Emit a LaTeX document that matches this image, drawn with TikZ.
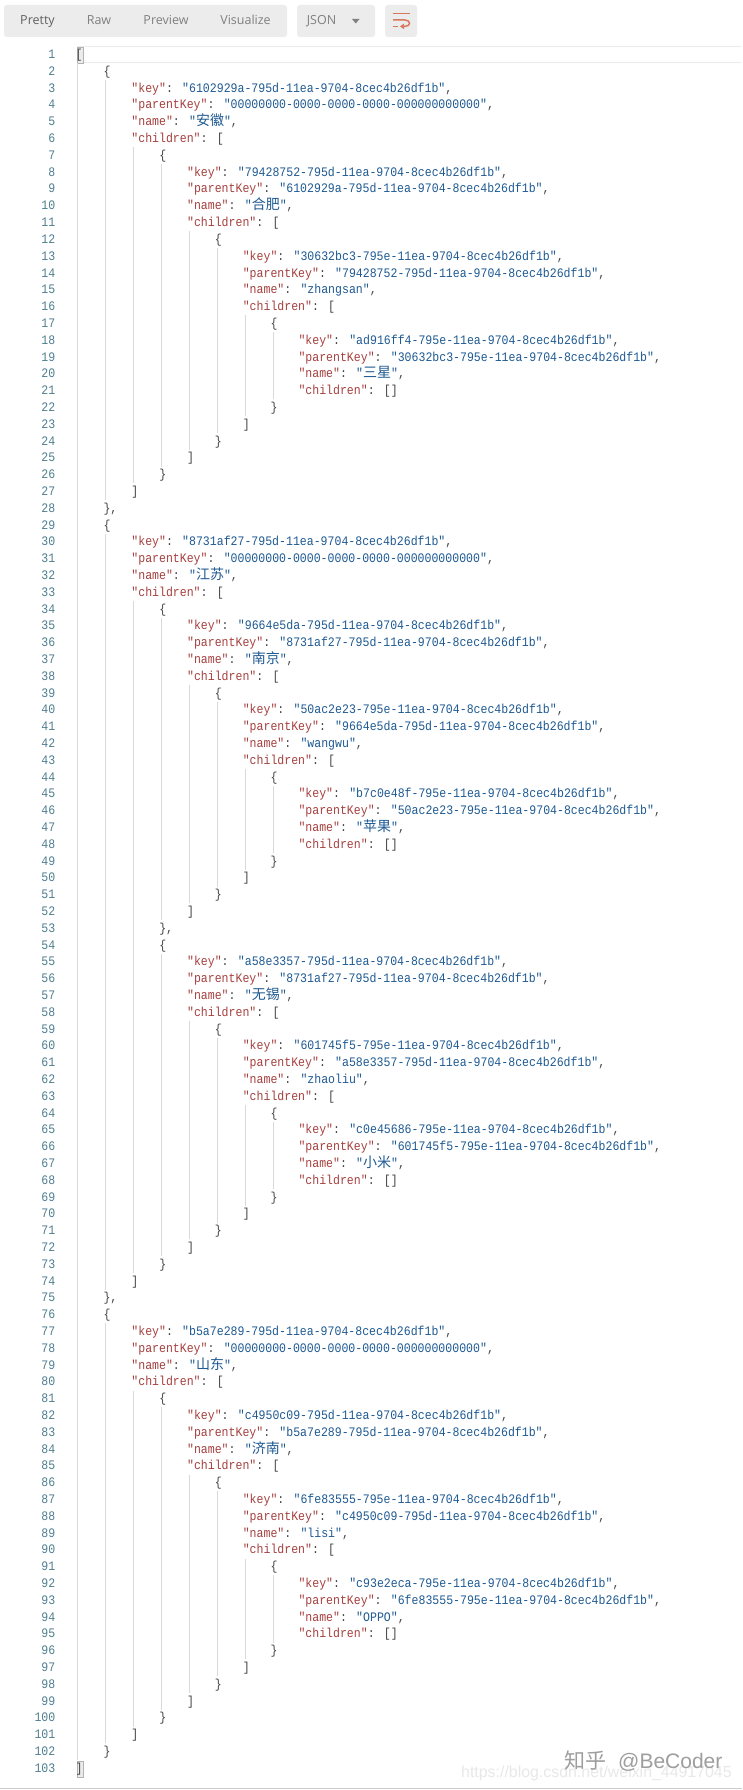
\documentclass[tikz,border=0pt]{standalone}
\usepackage{fontspec}
\setmainfont{Open Sans}
\newfontfamily\jmono[FakeStretch=0.888]{Liberation Mono}
\newfontfamily\jcjk{Noto Sans CJK SC}
\newfontfamily\jwm{Liberation Sans}
\definecolor{jkeyc}{HTML}{A5403F}
\definecolor{jstrc}{HTML}{1F5A92}
\definecolor{jpunc}{HTML}{454545}
\definecolor{jnumc}{HTML}{4F7F90}
\definecolor{jguide}{HTML}{D9D9D9}
\definecolor{jbar}{HTML}{ECECEC}
\definecolor{jorange}{HTML}{D9775C}
\newcommand\jpun[1]{\textcolor{jpunc}{#1}}
\newcommand\jkey[1]{\textcolor{jkeyc}{"#1"}\textcolor{jpunc}{: }}
\newcommand\jstr[1]{\textcolor{jstrc}{"#1"}}
\newcommand\jc[1]{{\jcjk\fontsize{14}{14}\selectfont #1}}
\tikzset{
  x=1pt,y=-1pt,
  code/.style={anchor=base west,inner sep=0pt,font=\jmono\fontsize{13}{13}\selectfont},
  lnum/.style={anchor=base east,inner sep=0pt,text=jnumc,font=\jmono\fontsize{13}{13}\selectfont},
  guide/.style={draw=jguide,line width=0.8pt},
  barbox/.style={fill=jbar,rounded corners=3pt,draw=none},
  tab/.style={inner sep=0pt,anchor=base,font=\fontsize{12.5}{12.5}\selectfont},
  active/.style={draw=jbar,line width=1pt},
  matchbox/.style={draw=black!30,fill=jbar,line width=0.8pt},
  wrapicon/.style={draw=jorange,line width=1.5pt}
}
\newcommand\jline[3]{%
  \edef\jn{\the\numexpr#1\relax}%
  \node[lnum] (n\jn) at (55.5,{58.6+16.8*(\jn-1)}) {\jn};
  \node[code] (l\jn) at ({75.5+27.85*#2},{58.6+16.8*(\jn-1)}) {#3};}
\newcommand\jopen[2]{\jline{#1}{#2}{\jpun{\{}}}
\newcommand\jclose[2]{\jline{#1}{#2}{\jpun{\}}}}
\newcommand\jclosec[2]{\jline{#1}{#2}{\jpun{\},}}}
\newcommand\jend[2]{\jline{#1}{#2}{\jpun{]}}}
% start line, indent, key, parentKey, name, what follows children
\newcommand\jrec[6]{%
  \jline{#1}{#2}{\jkey{key}\jstr{#3}\jpun{,}}
  \jline{#1+1}{#2}{\jkey{parentKey}\jstr{#4}\jpun{,}}
  \jline{#1+2}{#2}{\jkey{name}\jstr{#5}\jpun{,}}
  \jline{#1+3}{#2}{\jkey{children}\jpun{#6}}}
\begin{document}
\begin{tikzpicture}
\useasboundingbox (0,0) rectangle (742,1790);
\fill[white] (0,0) rectangle (742,1790);
% toolbar
\fill[barbox] (4,5) rectangle (287,37);
\fill[barbox] (297,5) rectangle (375,37);
\fill[barbox] (385,5) rectangle (417,37);
\node[tab,text=black!62] (tpretty) at (37.5,25) {Pretty};
\node[tab,text=black!50] (traw) at (99,25) {Raw};
\node[tab,text=black!50] (tprev) at (166,25) {Preview};
\node[tab,text=black!50] (tvis) at (245.5,25) {Visualize};
\node[tab,text=black!50] (tjson) at (321.5,25) {JSON};
\fill[black!50] (352,19) -- (359.5,19) -- (355.75,23.5) -- cycle;
% wrap icon
\draw[wrapicon] (393,13.5) -- (410,13.5);
\draw[wrapicon] (393,20) -- (405,20) .. controls (411,20) and (411,26.4) .. (405,26.4) -- (402,26.4);
\draw[wrapicon] (393,26.4) -- (398,26.4);
\fill[jorange] (404,23.6) -- (400,26.4) -- (404,29.2) -- cycle;
% active line
\draw[active] (77,47) -- (742,47);
\draw[active] (77,62.7) -- (742,62.7);
% bracket match
\filldraw[matchbox] (77.5,47.5) rectangle (83,63);
\filldraw[matchbox] (77.5,1761.5) rectangle (83,1777);
% indent guides: column/first line/last line
\foreach \c/\a/\b in {
 0/2/102,
 1/3/27,1/30/74,1/77/101,
 2/7/26,2/34/73,2/81/100,
 3/8/25,3/35/52,3/55/72,3/82/99,
 4/12/24,4/39/51,4/59/71,4/86/98,
 5/13/23,5/40/50,5/60/70,5/87/97,
 6/17/22,6/44/49,6/64/69,6/91/96,
 7/18/21,7/45/48,7/65/68,7/92/95}
 \draw[guide] ({77.4+27.95*\c},{46.6+16.8*(\a-1)}) -- ({77.4+27.95*\c},{46.6+16.8*\b});
% code
\jline{1}{0}{\jpun{[}}
\jopen{2}{1}
\jrec{3}{2}{6102929a-795d-11ea-9704-8cec4b26df1b}{00000000-0000-0000-0000-000000000000}{\jc{安徽}}{[}
\jopen{7}{3}
\jrec{8}{4}{79428752-795d-11ea-9704-8cec4b26df1b}{6102929a-795d-11ea-9704-8cec4b26df1b}{\jc{合肥}}{[}
\jopen{12}{5}
\jrec{13}{6}{30632bc3-795e-11ea-9704-8cec4b26df1b}{79428752-795d-11ea-9704-8cec4b26df1b}{zhangsan}{[}
\jopen{17}{7}
\jrec{18}{8}{ad916ff4-795e-11ea-9704-8cec4b26df1b}{30632bc3-795e-11ea-9704-8cec4b26df1b}{\jc{三星}}{[]}
\jclose{22}{7}
\jend{23}{6}
\jclose{24}{5}
\jend{25}{4}
\jclose{26}{3}
\jend{27}{2}
\jclosec{28}{1}
\jopen{29}{1}
\jrec{30}{2}{8731af27-795d-11ea-9704-8cec4b26df1b}{00000000-0000-0000-0000-000000000000}{\jc{江苏}}{[}
\jopen{34}{3}
\jrec{35}{4}{9664e5da-795d-11ea-9704-8cec4b26df1b}{8731af27-795d-11ea-9704-8cec4b26df1b}{\jc{南京}}{[}
\jopen{39}{5}
\jrec{40}{6}{50ac2e23-795e-11ea-9704-8cec4b26df1b}{9664e5da-795d-11ea-9704-8cec4b26df1b}{wangwu}{[}
\jopen{44}{7}
\jrec{45}{8}{b7c0e48f-795e-11ea-9704-8cec4b26df1b}{50ac2e23-795e-11ea-9704-8cec4b26df1b}{\jc{苹果}}{[]}
\jclose{49}{7}
\jend{50}{6}
\jclose{51}{5}
\jend{52}{4}
\jclosec{53}{3}
\jopen{54}{3}
\jrec{55}{4}{a58e3357-795d-11ea-9704-8cec4b26df1b}{8731af27-795d-11ea-9704-8cec4b26df1b}{\jc{无锡}}{[}
\jopen{59}{5}
\jrec{60}{6}{601745f5-795e-11ea-9704-8cec4b26df1b}{a58e3357-795d-11ea-9704-8cec4b26df1b}{zhaoliu}{[}
\jopen{64}{7}
\jrec{65}{8}{c0e45686-795e-11ea-9704-8cec4b26df1b}{601745f5-795e-11ea-9704-8cec4b26df1b}{\jc{小米}}{[]}
\jclose{69}{7}
\jend{70}{6}
\jclose{71}{5}
\jend{72}{4}
\jclose{73}{3}
\jend{74}{2}
\jclosec{75}{1}
\jopen{76}{1}
\jrec{77}{2}{b5a7e289-795d-11ea-9704-8cec4b26df1b}{00000000-0000-0000-0000-000000000000}{\jc{山东}}{[}
\jopen{81}{3}
\jrec{82}{4}{c4950c09-795d-11ea-9704-8cec4b26df1b}{b5a7e289-795d-11ea-9704-8cec4b26df1b}{\jc{济南}}{[}
\jopen{86}{5}
\jrec{87}{6}{6fe83555-795e-11ea-9704-8cec4b26df1b}{c4950c09-795d-11ea-9704-8cec4b26df1b}{lisi}{[}
\jopen{91}{7}
\jrec{92}{8}{c93e2eca-795e-11ea-9704-8cec4b26df1b}{6fe83555-795e-11ea-9704-8cec4b26df1b}{OPPO}{[]}
\jclose{96}{7}
\jend{97}{6}
\jclose{98}{5}
\jend{99}{4}
\jclose{100}{3}
\jend{101}{2}
\jclose{102}{1}
\jline{103}{0}{\jpun{]}}
% footer rule
\draw[draw=black!20,line width=1pt] (0,1788) -- (742,1788);
% watermarks
\node[inner sep=0pt,anchor=base west,text=black!9,font=\jwm\fontsize{15.9}{15.9}\selectfont] (wm2) at (461,1777) {https://blog.csdn.net/weixin\_44917045};
\node[inner sep=0pt,anchor=base west,text=black!38,font=\jcjk\fontsize{21}{21}\selectfont] (wm1a) at (564,1768) {知乎};
\node[inner sep=0pt,anchor=base west,text=black!38,font=\jwm\fontsize{21}{21}\selectfont] (wm1b) at (618,1768) {@BeCoder};
\end{tikzpicture}
\end{document}
